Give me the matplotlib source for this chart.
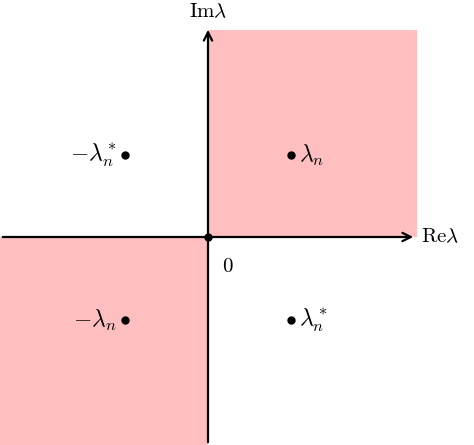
import matplotlib
matplotlib.use("Agg")
import matplotlib.pyplot as plt
from matplotlib.patches import Rectangle

plt.rcParams['mathtext.fontset'] = 'cm'
plt.rcParams['font.family'] = 'serif'
plt.rcParams['font.serif'] = ['DejaVu Serif']

# point positions (pixel-like data coords, y downward)
pts_x = [291, 125, 125, 291]
pts_y = [155, 155, 320, 320]
labels = [r'$\lambda_n$', r'$-\lambda_n^*$', r'$-\lambda_n$', r'$\lambda_n^*$']
sides = ['right', 'left', 'left', 'right']

fig = plt.figure(figsize=(4.74, 4.45), dpi=100)
ax = fig.add_axes([0, 0, 1, 1])
ax.set_xlim(0, 474)
ax.set_ylim(445, 0)
ax.axis('off')

ox, oy = 208, 237
pink = '#FFBFC0'
ax.add_patch(Rectangle((ox, 30), 417 - ox, oy - 30, color=pink, lw=0))
ax.add_patch(Rectangle((0, oy), ox, 445 - oy, color=pink, lw=0))

ax.annotate('', xy=(416, oy), xytext=(0, oy),
            arrowprops=dict(arrowstyle='->', lw=1.6, color='black', mutation_scale=15))
ax.annotate('', xy=(ox, 27), xytext=(ox, 445),
            arrowprops=dict(arrowstyle='->', lw=1.6, color='black', mutation_scale=15))
ax.plot([ox], [oy], 'o', color='black', ms=5)

ax.text(421, oy, r'$\mathrm{Re}\lambda$', fontsize=15, va='center', ha='left')
ax.text(ox, 12, r'$\mathrm{Im}\lambda$', fontsize=15, va='center', ha='center')
ax.text(228, 266, r'$0$', fontsize=15, va='center', ha='center')

for x, y, l, s in zip(pts_x, pts_y, labels, sides):
    ax.plot([x], [y], 'o', color='black', ms=5)
    if s == 'right':
        ax.text(x + 8, y, l, fontsize=17, va='center', ha='left')
    else:
        ax.text(x - 8, y, l, fontsize=17, va='center', ha='right')

fig.savefig('out.png', dpi=100)
